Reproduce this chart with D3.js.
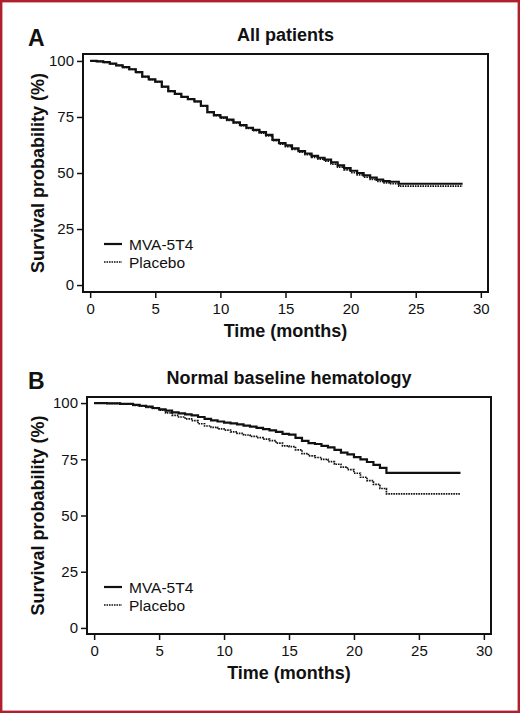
<!DOCTYPE html>
<html lang="en">
<head>
    <meta charset="UTF-8">
    <title>Survival curves</title>
    <script src="https://d3js.org/d3.v7.min.js"></script>
    <style>
        body, html {
            margin: 0;
            padding: 0;
            background: white;
        }
        svg text {
            font-family: 'Liberation Sans', Arial, Helvetica, sans-serif;
            fill: #111;
        }
        .tick text {
            font-size: 15px;
        }
    </style>
</head>
<body>
    <script>
        'use strict'

        // ticks
        const xTicks = [0, 5, 10, 15, 20, 25, 30]
        const yTicks = [0, 25, 50, 75, 100]
        const legendLabels = ['MVA-5T4', 'Placebo']

        // panel A - all patients (months, survival %)
        const timesA = [0, 0.5, 1, 1.5, 2, 2.5, 3, 3.5, 4, 4.5, 5, 5.5, 6, 6.5, 7, 7.5, 8, 8.5, 9, 9.5,
            10, 10.5, 11, 11.5, 12, 12.5, 13, 13.5, 14, 14.5, 15, 15.5, 16, 16.5, 17, 17.5, 18, 18.5, 19, 19.5,
            20, 20.5, 21, 21.5, 22, 22.5, 23, 23.7, 28.6]
        const mvaA = [100, 99.8, 99.5, 98.8, 98, 97.2, 96.3, 95, 93, 91.8, 90.8, 88.5, 86.5, 85.3, 84, 83, 82, 80, 77.2, 75.8,
            74.8, 73.8, 72.6, 71.4, 70.2, 69.2, 68.2, 67, 64.8, 63.3, 62.3, 61, 59.8, 58.7, 57.6, 56.8, 56, 54.8, 53.4, 52.2,
            51, 50, 48.9, 47.9, 47, 46.4, 46.1, 45.2, 45.2]
        const placeboA = [100, 99.8, 99.4, 98.7, 98, 97.1, 96.2, 94.9, 93, 91.7, 90.6, 88.4, 86.4, 85.2, 83.9, 82.9, 81.8, 79.8, 77, 75.6,
            74.5, 73.5, 72.3, 71.1, 69.9, 68.9, 67.8, 66.6, 64.4, 62.9, 61.8, 60.5, 59.3, 58.2, 57, 56.2, 55.3, 54, 52.6, 51.4,
            50.2, 49.2, 48.1, 47.1, 46.2, 45.6, 45.2, 44.1, 44.1]

        // panel B - normal baseline hematology
        const timesB = [0, 1, 2, 3, 3.5, 4, 4.5, 5, 5.5, 6, 6.5, 7, 7.5, 8, 8.5, 9, 9.5, 10, 10.5, 11,
            11.5, 12, 12.5, 13, 13.5, 14, 14.5, 15, 15.5, 16, 16.5, 17, 17.5, 18, 18.5, 19, 19.5, 20, 20.5, 21,
            21.5, 22, 22.5, 28.2]
        const mvaB = [100, 99.9, 99.6, 99.2, 98.8, 98.4, 97.8, 97.2, 96.6, 95.9, 95.4, 95, 94.5, 93.8, 93, 92.3, 91.8, 91.3, 91, 90.5,
            90, 89.5, 89, 88.4, 87.9, 87.2, 86.3, 86, 84.5, 83.2, 82.2, 81.8, 81, 80.3, 79.2, 78, 77.2, 76, 75, 73.8,
            72.5, 71.2, 69, 69]
        const placeboB = [100, 99.9, 99.6, 99, 98.6, 98.1, 97.6, 96.8, 95.6, 94.5, 93.8, 93, 92.2, 90.8, 89.8, 89.2, 88.5, 88, 87.2, 86.5,
            85.8, 85.2, 84.6, 84, 83.3, 82.2, 81, 80.6, 79.2, 77.5, 76.5, 75.8, 75, 74, 72.8, 71.5, 70.4, 68.8, 67, 65.5,
            63.8, 62, 59.6, 59.6]

        const w = 520
        const h = 713

        const svg = d3.select('body')
            .append('svg')
            .attr('width', w)
            .attr('height', h)

        // red border round the figure
        svg.append('rect')
            .attr('x', 1.2)
            .attr('y', 1.2)
            .attr('width', w - 2.4)
            .attr('height', h - 2.4)
            .attr('fill', 'white')
            .attr('stroke', '#b01f2e')
            .attr('stroke-width', 2.4)

        const dotted = '1.6,0.9'

        function drawPanel(cfg) {
            const x = d3.scaleLinear()
                .domain([-0.55, 30.55])
                .range([cfg.left, cfg.right])
            const y = d3.scaleLinear()
                .domain([cfg.yMin, cfg.yMax])
                .range([cfg.bottom, cfg.top])

            const g = svg.append('g')

            // panel letter and title
            g.append('text')
                .text(cfg.letter)
                .attr('x', 28)
                .attr('y', cfg.top - 8)
                .style('font-size', '23px')
                .style('font-weight', 'bold')

            g.append('text')
                .text(cfg.title)
                .attr('x', (cfg.left + cfg.right) / 2)
                .attr('y', cfg.top - 13)
                .attr('text-anchor', 'middle')
                .style('font-size', '18px')
                .style('font-weight', 'bold')

            // axes
            g.append('g')
                .attr('transform', `translate(${cfg.left}, 0)`)
                .call(d3.axisLeft(y).tickValues(yTicks).tickSize(6).tickPadding(3))
                .call(a => a.select('.domain').remove())
                .call(a => a.selectAll('.tick line').attr('stroke', '#111').attr('stroke-width', 1.5))

            g.append('g')
                .attr('transform', `translate(0, ${cfg.bottom})`)
                .call(d3.axisBottom(x).tickValues(xTicks).tickSize(6).tickPadding(5))
                .call(a => a.select('.domain').remove())
                .call(a => a.selectAll('.tick line').attr('stroke', '#111').attr('stroke-width', 1.5))

            // frame
            g.append('rect')
                .attr('x', cfg.left)
                .attr('y', cfg.top)
                .attr('width', cfg.right - cfg.left)
                .attr('height', cfg.bottom - cfg.top)
                .attr('fill', 'none')
                .attr('stroke', '#111')
                .attr('stroke-width', 2)

            // axis labels
            g.append('text')
                .text('Time (months)')
                .attr('x', (cfg.left + cfg.right) / 2)
                .attr('y', cfg.bottom + 45)
                .attr('text-anchor', 'middle')
                .style('font-size', '18px')
                .style('font-weight', 'bold')

            g.append('text')
                .text('Survival probability (%)')
                .attr('transform', `translate(44, ${(cfg.top + cfg.bottom) / 2}) rotate(-90)`)
                .attr('text-anchor', 'middle')
                .style('font-size', '18px')
                .style('font-weight', 'bold')

            // step curves
            const line = d3.line()
                .x(d => x(d[0]))
                .y(d => y(d[1]))
                .curve(d3.curveStepAfter)

            const series = [
                {values: cfg.placebo, dash: dotted, width: 1.7},
                {values: cfg.mva, dash: null, width: 2.2}
            ]

            g.selectAll('.km')
                .data(series)
                .enter()
                .append('path')
                .attr('class', 'km')
                .attr('d', s => line(cfg.times.map((t, i) => [t, s.values[i]])))
                .attr('fill', 'none')
                .attr('stroke', '#111')
                .attr('stroke-width', s => s.width)
                .attr('stroke-dasharray', s => s.dash)

            // legend
            const legend = g.append('g')
            legendLabels.forEach((label, i) => {
                const ly = cfg.legendY + i * 18
                legend.append('line')
                    .attr('x1', 104)
                    .attr('x2', 122)
                    .attr('y1', ly)
                    .attr('y2', ly)
                    .attr('stroke', '#111')
                    .attr('stroke-width', i === 0 ? 2.2 : 1.7)
                    .attr('stroke-dasharray', i === 0 ? null : dotted)
                legend.append('text')
                    .text(label)
                    .attr('x', 129)
                    .attr('y', ly + 5.5)
                    .style('font-size', '15.5px')
            })
        }

        drawPanel({
            letter: 'A', title: 'All patients',
            left: 83, right: 488, top: 54, bottom: 292,
            yMin: -3.1, yMax: 103.1,
            times: timesA, mva: mvaA, placebo: placeboA,
            legendY: 244
        })

        drawPanel({
            letter: 'B', title: 'Normal baseline hematology',
            left: 87, right: 491, top: 397, bottom: 634,
            yMin: -2.7, yMax: 102.7,
            times: timesB, mva: mvaB, placebo: placeboB,
            legendY: 587
        })
    </script>
</body>
</html>
